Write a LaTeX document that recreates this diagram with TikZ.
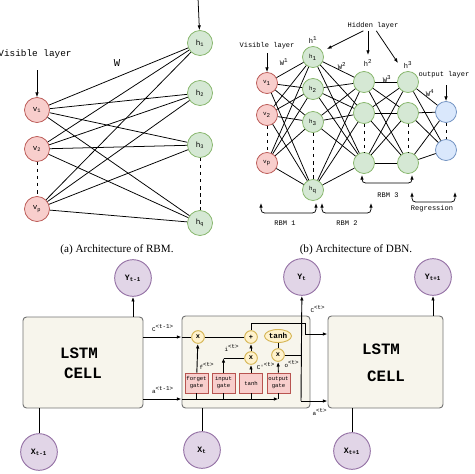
\documentclass[tikz,border=0pt]{standalone}
\usepackage{fontspec}
\setmainfont{Liberation Serif}
\setmonofont{Liberation Mono}
\usepackage{tikz}
\usetikzlibrary{arrows.meta}
\usetikzlibrary{shapes}
\definecolor{visfill}{HTML}{F8CECC}
\definecolor{visdraw}{HTML}{B85450}
\definecolor{hidfill}{HTML}{D5E8D4}
\definecolor{hiddraw}{HTML}{82B366}
\definecolor{outfill}{HTML}{DAE8FC}
\definecolor{outdraw}{HTML}{6C8EBF}
\definecolor{iofill}{HTML}{E1D5E7}
\definecolor{iodraw}{HTML}{9673A6}
\definecolor{opfill}{HTML}{FFF2CC}
\definecolor{opdraw}{HTML}{D6B656}
\definecolor{cellfill}{HTML}{F7F5EC}
\tikzset{rbmvis/.style={circle,draw=visdraw,fill=visfill,minimum size=0.75cm,inner sep=0pt,
   font=\ttfamily\fontsize{6.5}{7}\selectfont},
 rbmhid/.style={rbmvis,draw=hiddraw,fill=hidfill},
 dbnvis/.style={rbmvis,minimum size=0.63cm,font=\ttfamily\fontsize{5}{6}\selectfont},
 dbnhid/.style={dbnvis,draw=hiddraw,fill=hidfill},
 dbnout/.style={dbnvis,draw=outdraw,fill=outfill},
 lbl/.style={inner sep=1pt,font=\ttfamily\fontsize{6}{7}\selectfont},
 biglbl/.style={inner sep=1pt,font=\ttfamily\fontsize{8}{9}\selectfont},
 caption/.style={inner sep=1pt,font=\fontsize{9.5}{11}\selectfont},
 lstmcell/.style={draw=black!55,fill=cellfill,rounded corners=3pt,line width=0.8pt},
 celltext/.style={font=\ttfamily\bfseries\fontsize{13.5}{15}\selectfont},
 io/.style={circle,draw=iodraw,fill=iofill,minimum size=1.1cm,inner sep=0pt,line width=0.8pt,
   font=\ttfamily\bfseries\fontsize{7}{8}\selectfont},
 op/.style={circle,draw=opdraw,fill=opfill,minimum size=0.38cm,inner sep=0pt,line width=0.8pt,
   font=\ttfamily\bfseries\fontsize{6}{7}\selectfont},
 gate/.style={draw=visdraw,fill=visfill,minimum width=0.69cm,minimum height=0.6cm,inner sep=0pt,
   align=center,font=\ttfamily\fontsize{4.8}{6}\selectfont},
 small/.style={inner sep=0.5pt,font=\ttfamily\fontsize{5}{6}\selectfont},
 brace/.style={<->,rounded corners=3pt},
 }

\begin{document}
\begin{tikzpicture}[x=0.03cm,y=-0.03cm,line width=0.65pt,>={Latex[length=4pt,width=3pt]}]
        \useasboundingbox (0,0) rectangle (474,474);
        % RBM
        \node[rbmvis] (v1) at (37,110) {v\textsubscript{1}};
        \node[rbmvis] (v2) at (37,149) {v\textsubscript{2}};
        \node[rbmvis] (vp) at (37,209) {v\textsubscript{p}};
        \node[rbmhid] (h1) at (200,43) {h\textsubscript{1}};
        \node[rbmhid] (h2) at (200,93) {h\textsubscript{2}};
        \node[rbmhid] (h3) at (200,145) {h\textsubscript{3}};
        \node[rbmhid] (hq) at (200,223) {h\textsubscript{q}};
        \foreach \a in {v1,v2,vp}
            \foreach \b in {h1,h2,h3,hq}
                \draw (\a) -- (\b);
        \draw[dashed] (v2) -- (vp);
        \draw[dashed] (h3) -- (hq);
        \node[biglbl] (vislbl) at (35,54) {Visible layer};
        \coordinate (vistail) at (37,70);
        \draw[->] (vistail) -- (v1);
        \coordinate (hidtail) at (198,-2);
        \draw[->] (hidtail) -- (h1);
        \node[biglbl,font=\ttfamily\fontsize{9}{10}\selectfont] (wlbl) at (117,63) {W};
        \node[caption] (capa) at (117,250) {(a) Architecture of RBM.};

        % DBN
        \node[dbnvis] (dv1) at (267,83) {v\textsubscript{1}};
        \node[dbnvis] (dv2) at (267,115) {v\textsubscript{2}};
        \node[dbnvis] (dvp) at (267,163) {v\textsubscript{p}};
        \node[dbnhid] (dh1) at (313,57) {h\textsubscript{1}};
        \node[dbnhid] (dh2) at (313,89) {h\textsubscript{2}};
        \node[dbnhid] (dh3) at (313,122) {h\textsubscript{3}};
        \node[dbnhid] (dhq) at (313,190) {h\textsubscript{q}};
        \node[dbnhid] (dm1) at (364,82) {};
        \node[dbnhid] (dm2) at (364,113) {};
        \node[dbnhid] (dm3) at (364,163) {};
        \node[dbnhid] (dn1) at (408,82) {};
        \node[dbnhid] (dn2) at (408,113) {};
        \node[dbnhid] (dn3) at (408,163) {};
        \node[dbnout] (do1) at (446,112) {};
        \node[dbnout] (do2) at (446,150) {};
        \foreach \a in {dv1,dv2,dvp}
            \foreach \b in {dh1,dh2,dh3,dhq}
                \draw (\a) -- (\b);
        \foreach \a in {dh1,dh2,dh3,dhq}
            \foreach \b in {dm1,dm2,dm3}
                \draw (\a) -- (\b);
        \foreach \a in {dm1,dm2,dm3}
            \foreach \b in {dn1,dn2,dn3}
                \draw (\a) -- (\b);
        \foreach \a in {dn1,dn2,dn3}
            \foreach \b in {do1,do2}
                \draw (\a) -- (\b);
        \draw[dashed] (dv2) -- (dvp);
        \draw[dashed] (dh3) -- (dhq);
        \draw[dashed] (dm2) -- (dm3);
        \draw[dashed] (dn2) -- (dn3);
        \draw[dashed] (do1) -- (do2);
        \node[lbl] (dvislbl) at (267,46) {Visible layer};
        \node[lbl] (hidlbl) at (373,26) {Hidden layer};
        \node[lbl] (outlbl) at (444,75) {output layer};
        \node[lbl] (l1) at (313,40) {h\textsuperscript{1}};
        \node[lbl] (l2) at (368,63) {h\textsuperscript{2}};
        \node[lbl] (l3) at (408,65) {h\textsuperscript{3}};
        \node[lbl] (w1) at (284,62) {W\textsuperscript{1}};
        \node[lbl] (w2) at (342,66) {W\textsuperscript{2}};
        \node[lbl] (w3) at (387,79) {W\textsuperscript{3}};
        \node[lbl] (w4) at (430,93) {W\textsuperscript{4}};
        \coordinate (dvistail) at (267,53);
        \draw[->] (dvistail) -- (dv1);
        \coordinate (outtail) at (446,85);
        \draw[->] (outtail) -- (do1);
        \coordinate (a1) at (327,49);
        \coordinate (a2) at (368,55);
        \coordinate (a3) at (398,63);
        \draw[->] (hidlbl) -- (a1);
        \draw[->] (a2 |- hidlbl.south) -- (a2);
        \draw[->] (hidlbl) -- (a3);
        \draw[brace] (261,203) -- (261,213) -- (316,213) -- (316,203);
        \draw[brace] (322,203) -- (322,213) -- (371,213) -- (371,203);
        \draw[brace] (362,175) -- (362,183) -- (412,183) -- (412,175);
        \draw[brace] (412,192) -- (412,202) -- (455,202) -- (455,192);
        \node[lbl] (rbm1) at (285,223) {RBM 1};
        \node[lbl] (rbm2) at (347,223) {RBM 2};
        \node[lbl] (rbm3) at (388,195) {RBM 3};
        \node[lbl] (reg) at (432,209) {Regression};
        \node[caption] (capb) at (356,250) {(b) Architecture of DBN.};

        % LSTM
        \begin{scope}[line width=0.8pt]
        \node[lstmcell,minimum width=3.6cm,minimum height=2.73cm] (lbox) at (83,362.5) {};
        \node[lstmcell,minimum width=3.84cm,minimum height=2.76cm] (mbox) at (246,362) {};
        \node[lstmcell,minimum width=3.45cm,minimum height=2.76cm] (rbox) at (385.5,362) {};
        \node[celltext] (lt1) at (79,353) {LSTM};
        \node[celltext] (lt2) at (83,373) {CELL};
        \node[celltext] (rt1) at (381,349) {LSTM};
        \node[celltext] (rt2) at (386,376) {CELL};
        \node[io] (ym1) at (133,278) {Y\textsubscript{t-1}};
        \node[io] (yt) at (302,277) {Y\textsubscript{t}};
        \node[io] (yp1) at (433,277) {Y\textsubscript{t+1}};
        \node[io] (xm1) at (39,452) {X\textsubscript{t-1}};
        \node[io] (xt) at (202,450) {X\textsubscript{t}};
        \node[io] (xp1) at (352,451) {X\textsubscript{t+1}};
        \draw[->] (ym1 |- lbox.north) -- (ym1);
        \draw[->] (yp1 |- rbox.north) -- (yp1);
        \draw (xm1) -- (xm1 |- lbox.south);
        \draw (xt) -- (xt |- mbox.south);
        \draw (xp1) -- (xp1 |- rbox.south);
        % inside the cell
        \node[op] (fx) at (198,337) {x};
        \node[op] (plus) at (251,337) {+};
        \node[op,ellipse,minimum width=0.81cm,minimum height=0.39cm,font=\ttfamily\bfseries\fontsize{6.5}{7}\selectfont] (th) at (278,336) {tanh};
        \node[op] (ix) at (251,358) {x};
        \node[op] (ox) at (278,355) {x};
        \node[gate] (fg) at (196.5,383) {forget\\gate};
        \node[gate] (ig) at (223.5,383) {input\\gate};
        \node[gate] (tg) at (251,383) {tanh};
        \node[gate] (og) at (278.5,383) {output\\gate};
        \coordinate (ain) at (0,399);
        \draw[->] (lbox.east |- fx) -- (mbox.west |- fx);
        \draw (mbox.west |- fx) -- (fx) -- (plus);
        \draw[->] (lbox.east |- ain) -- (mbox.west |- ain);
        \draw[->] (mbox.west |- ain) -- (og.south |- ain);
        \draw (fg) -- (fg |- ain);
        \draw (ig) -- (ig |- ain);
        \draw (tg) -- (tg |- ain);
        \draw (og) -- (og |- ain);
        \draw[->] (fg) -- (fx);
        \draw[->] (ig) -- (ig |- ix);
        \draw (ig |- ix) -- (ix);
        \draw[->] (tg) -- (ix);
        \draw[->] (ix) -- (plus);
        \draw[->] (og) -- (ox);
        \draw (th) -- (ox);
        \coordinate (hb) at (301,401);
        \draw (ox) -- (ox -| hb);
        \draw[->] (hb) -- (yt);
        \draw[->] (hb) -- (rbox.west |- hb);
        \coordinate (ct1) at (305,323);
        \coordinate (ct2) at (305,334);
        \draw[->] (plus) |- (ct1) -- (ct2) -- (rbox.west |- ct2);
        \node[small] (cl1) at (163,328) {C\textsuperscript{<t-1>}};
        \node[small] (al1) at (163,390) {a\textsuperscript{<t-1>}};
        \node[small] (fl) at (207,366) {f\textsuperscript{<t>}};
        \node[small] (il) at (232,348) {i\textsuperscript{<t>}};
        \node[small] (cpl) at (266,366) {C'\textsuperscript{<t>}};
        \node[small] (ol) at (292,364) {o\textsuperscript{<t>}};
        \node[small] (cl) at (318,309) {C\textsuperscript{<t>}};
        \node[small] (al) at (320,412) {a\textsuperscript{<t>}};
        \end{scope}
    \end{tikzpicture}
\end{document}
